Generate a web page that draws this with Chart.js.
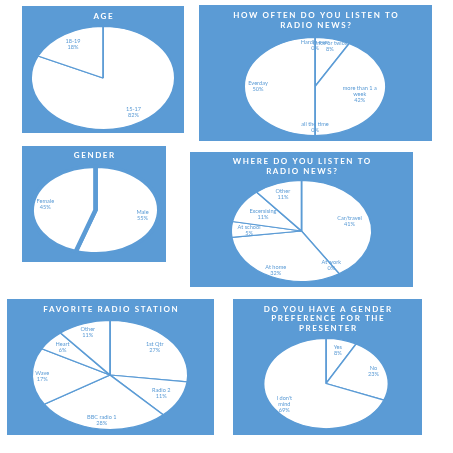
<!DOCTYPE html>
<html>
<head>
<meta charset="utf-8">
<script src="https://cdn.jsdelivr.net/npm/chart.js@4.4.0/dist/chart.umd.min.js"></script>
<style>
  html, body { margin: 0; padding: 0; background: #fff; }
  body { width: 453px; height: 453px; position: relative; overflow: hidden; }
  .painel { position: absolute; background: #5b9bd5; }
  .painel canvas { display: block; }
</style>
</head>
<body>
<div id="tela"></div>
<script>
const AZUL = '#5b9bd5';

// --- DADOS ---
const idadeCategorias = ['15-17', '18-19'];
const idadeValores = [82, 18];

const frequenciaCategorias = ['Hardly ever', 'Once or twice', ['more than 1 a', 'week'], 'all the time', 'Everday'];
const frequenciaValores = [0, 8, 42, 0, 50];

const generoCategorias = ['Male', 'Female'];
const generoValores = [55, 45];

const localCategorias = ['Car/travel', 'At work', 'At home', 'At school', 'Excersising', 'Other'];
const localValores = [41, 0, 32, 5, 11, 11];

const radioCategorias = ['1st Qtr', 'Radio 2', 'BBC radio 1', 'Wave', 'Heart', 'Other'];
const radioValores = [27, 11, 28, 17, 6, 11];

const preferenciaCategorias = ['Yes', 'No', ["I don't", 'mind']];
const preferenciaValores = [8, 23, 69];

// --- LAYOUT dos pain칠is: ret칙ngulo, centro da pizza, raios (x, y) ---
const paineis = [
  { titulo: ['AGE'], tituloY: [16], rect: [22, 6, 162, 127], centro: [103, 78], raios: [71, 51],
    categorias: idadeCategorias, valores: idadeValores, rotulo: [0.8, 0.79], borda: 1.2 },
  { titulo: ['HOW OFTEN DO YOU LISTEN TO', 'RADIO NEWS?'], tituloY: [15, 25], rect: [199, 5, 233, 136],
    centro: [315, 86.5], raios: [70, 48.5],
    categorias: frequenciaCategorias, valores: frequenciaValores, rotulo: [0.86, 0.86, 0.66, 0.835, 0.814], borda: 1.2 },
  { titulo: ['GENDER'], tituloY: [155], rect: [22, 146, 144, 116], centro: [95.5, 210], raios: [61.5, 42],
    categorias: generoCategorias, valores: generoValores, rotulo: [0.774, 0.826], borda: 3.2 },
  { titulo: ['WHERE DO YOU LISTEN TO', 'RADIO NEWS?'], tituloY: [161, 171], rect: [190, 152, 223, 135],
    centro: [301.5, 231], raios: [69.5, 50],
    categorias: localCategorias, valores: localValores, rotulo: [0.72, 0.8, 0.87, 0.755, 0.645, 0.79], borda: 1.2 },
  { titulo: ['FAVORITE RADIO STATION'], tituloY: [309], rect: [7, 299, 207, 136], centro: [110, 375], raios: [77, 54],
    categorias: radioCategorias, valores: radioValores, rotulo: [0.775, 0.747, 0.85, 0.88, 0.8, 0.85], borda: 1.2 },
  { titulo: ['DO YOU HAVE A GENDER', 'PREFERENCE FOR THE', 'PRESENTER'], tituloY: [309, 318.5, 328],
    rect: [233, 299, 189, 136], centro: [326, 383.5], raios: [61.5, 44.5],
    categorias: preferenciaCategorias, valores: preferenciaValores, rotulo: [0.776, 0.82, 0.82], borda: 1.2 }
];

// Plugin por gr치fico: t칤tulo, pizza achatada (oval) e r칩tulos dentro das fatias
function pluginOval(p) {
  const esticar = p.raios[0] / p.raios[1];
  return {
    id: 'oval',
    beforeDraw(chart) {
      const ctx = chart.ctx;
      ctx.save();
      ctx.fillStyle = '#fff';
      ctx.font = 'bold 8px Lato';
      ctx.letterSpacing = '1.6px';
      ctx.textAlign = 'center';
      ctx.textBaseline = 'middle';
      p.titulo.forEach((t, i) => ctx.fillText(t, chart.width / 2 + 0.8, p.tituloY[i] - p.rect[1]));
      ctx.restore();
    },
    beforeDatasetsDraw(chart) {
      // estica horizontalmente em volta do centro -> elipse como no Excel
      const arc = chart.getDatasetMeta(0).data[0];
      const ctx = chart.ctx;
      ctx.save();
      ctx.translate(arc.x, arc.y);
      ctx.scale(esticar, 1);
      ctx.translate(-arc.x, -arc.y);
    },
    afterDatasetsDraw(chart) {
      const ctx = chart.ctx;
      ctx.restore();
      const meta = chart.getDatasetMeta(0);
      ctx.save();
      ctx.fillStyle = AZUL;
      ctx.font = '5.6px Lato';
      ctx.letterSpacing = '0px';
      ctx.textAlign = 'center';
      ctx.textBaseline = 'middle';
      meta.data.forEach((arc, i) => {
        const { x, y, startAngle, endAngle, outerRadius } =
          arc.getProps(['x', 'y', 'startAngle', 'endAngle', 'outerRadius'], true);
        const meio = (startAngle + endAngle) / 2;
        const r = (outerRadius - p.borda / 2) * p.rotulo[i];
        const px = x + Math.cos(meio) * r * esticar;
        const py = y + Math.sin(meio) * r;
        const linhas = [].concat(chart.data.labels[i], chart.data.datasets[0].data[i] + '%');
        linhas.forEach((l, k) => ctx.fillText(l, px, py + (k - (linhas.length - 1) / 2) * 6));
      });
      ctx.restore();
    }
  };
}

const tela = document.getElementById('tela');
paineis.forEach(p => {
  const [px, py, pw, ph] = p.rect;
  const div = document.createElement('div');
  div.className = 'painel';
  div.style.left = px + 'px';
  div.style.top = py + 'px';
  div.style.width = pw + 'px';
  div.style.height = ph + 'px';
  const canvas = document.createElement('canvas');
  canvas.width = pw;
  canvas.height = ph;
  div.appendChild(canvas);
  tela.appendChild(div);

  // 치rea do gr치fico quadrada em volta do centro, raio vis칤vel = raio y
  const meio = p.raios[1] + p.borda;
  const cx = p.centro[0] - px, cy = p.centro[1] - py;

  new Chart(canvas, {
    type: 'pie',
    data: {
      labels: p.categorias,
      datasets: [{
        data: p.valores,
        backgroundColor: '#fff',
        borderColor: AZUL,
        borderWidth: p.borda
      }]
    },
    options: {
      responsive: false,
      animation: false,
      events: [],
      layout: {
        padding: { left: cx - meio, right: pw - cx - meio, top: cy - meio, bottom: ph - cy - meio }
      },
      plugins: { legend: { display: false }, tooltip: { enabled: false } }
    },
    plugins: [pluginOval(p)]
  });
});
</script>
</body>
</html>
